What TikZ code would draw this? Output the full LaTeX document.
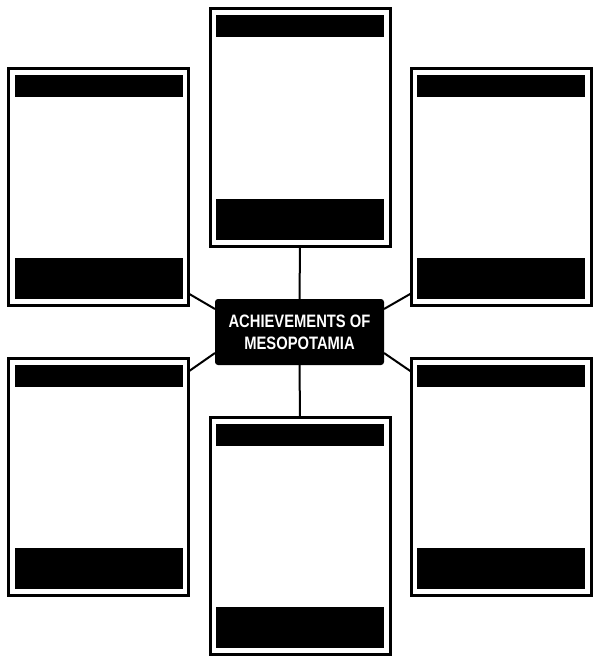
\documentclass[tikz,border=0pt]{standalone}
\usepackage{fontspec}
\newfontfamily\titlefont[FakeStretch=0.82]{Liberation Sans}
\begin{document}
\begin{tikzpicture}[x=1pt,y=-1pt,
  card/.style={draw=black,line width=3pt,fill=white,rectangle,outer sep=0pt,inner sep=0pt,minimum width=180pt,minimum height=237pt},
  topbar/.style={fill=black,rectangle,inner sep=0pt,minimum width=168pt,minimum height=22pt,anchor=north},
  botbar/.style={fill=black,rectangle,inner sep=0pt,minimum width=168pt,minimum height=41pt,anchor=south},
  hub/.style={fill=black,rectangle,rounded corners=3pt,minimum width=169pt,minimum height=66pt,inner sep=0pt,outer sep=0pt,text=white,align=center,font=\titlefont\bfseries\fontsize{18}{22}\selectfont},
  link/.style={draw=black,line width=2pt}]
\useasboundingbox (0,0) rectangle (600,663);
\fill[white] (0,0) rectangle (600,663);
% cards
\node[card] (TL) at (98.5,187) {};
\node[card] (TC) at (300,127.5) {};
\node[card] (TR) at (501,187) {};
\node[card] (BL) at (98.5,477) {};
\node[card] (BC) at (300,536) {};
\node[card] (BR) at (501,477) {};
% bars
\foreach \b in {TL,TC,TR,BL,BC,BR}{
  \node[topbar] (\b top) at ([yshift=-6pt]\b.north) {};
  \node[botbar] (\b bot) at ([yshift=6pt]\b.south) {};
}
% hub
\node[hub] (C) at (299.5,332) {ACHIEVEMENTS OF\\MESOPOTAMIA};
% links
\draw[link] (TC.south) -- (C.north);
\draw[link] (C.south) -- (BC.north);
\draw[link] ([yshift=12pt]TL.south east) -- ([yshift=-10pt]C.north west);
\draw[link] ([yshift=12pt]TR.south west) -- ([yshift=-10pt]C.north east);
\draw[link] ([yshift=-13pt]BL.north east) -- ([yshift=12pt]C.south west);
\draw[link] ([yshift=-13pt]BR.north west) -- ([yshift=12pt]C.south east);
\end{tikzpicture}
\end{document}
